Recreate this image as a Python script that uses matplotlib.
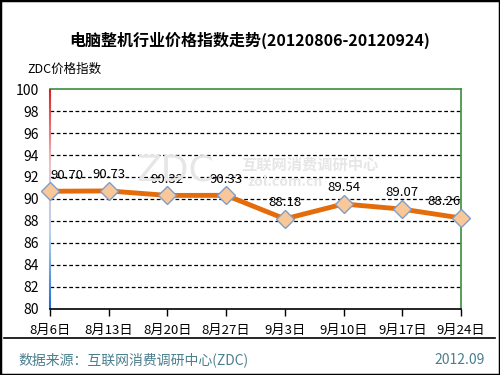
import numpy as np
import matplotlib.pyplot as plt
from matplotlib.collections import LineCollection
from matplotlib.colors import LinearSegmentedColormap
from matplotlib.patches import Rectangle

plt.rcParams['font.family'] = ['Noto Sans CJK SC', 'DejaVu Sans']

# data
dates = ['8月6日', '8月13日', '8月20日', '8月27日', '9月3日', '9月10日', '9月17日', '9月24日']
index = [90.70, 90.73, 90.32, 90.33, 88.18, 89.54, 89.07, 88.26]
yticks = [80, 82, 84, 86, 88, 90, 92, 94, 96, 98, 100]

fig = plt.figure(figsize=(5, 3.75), dpi=100)
ax = fig.add_axes([0.1, 0.177, 0.822, 0.585])

x = np.arange(len(dates))
ax.plot(x, index, color='#E46C0A', lw=3.5, zorder=3, clip_on=False)
ax.plot(x, index, ls='none', marker='D', ms=9, mfc='#FAC898', mec='#7F9DC6',
        mew=1, zorder=4, clip_on=False)

# value labels
for i, v in enumerate(index):
    ha = 'center'
    if i == 0:
        ha = 'left'
    elif i == len(index) - 1:
        ha = 'right'
    ax.annotate('%.2f' % v, (i, v), xytext=(0, 7), textcoords='offset points',
                ha=ha, va='bottom', fontsize=9.5, color='black', zorder=5)

ax.set_xlim(0, len(dates) - 1)
ax.set_ylim(80, 100)
ax.set_yticks(yticks)
ax.set_xticks(x)
ax.set_xticklabels(dates, fontsize=9.5)
ax.tick_params(axis='y', length=0, pad=8, labelsize=10)
ax.tick_params(axis='x', length=5, direction='out', pad=6, width=1)

# dashed grid
for yv in yticks[1:-1]:
    ax.axhline(yv, color='black', lw=0.9, ls=(0, (3, 2)), zorder=1)

for s in ['top', 'right', 'left']:
    ax.spines[s].set_visible(False)
ax.spines['bottom'].set_linewidth(1.2)

ax.axhline(100, color='#3C8C3C', lw=1.2, zorder=2, clip_on=False)
ax.axvline(len(dates) - 1, color='#3C8C3C', lw=1.2, zorder=2, clip_on=False)

# gradient left axis
ys = np.linspace(80, 100, 60)
pts = np.array([[0, y] for y in ys]).reshape(-1, 1, 2)
segs = np.concatenate([pts[:-1], pts[1:]], axis=1)
cmap = LinearSegmentedColormap.from_list('lax', ['#1F6FD0', '#B8D0EE', '#F0C0C8', '#E02020'])
lc = LineCollection(segs, colors=cmap(np.linspace(0, 1, len(segs))), lw=1.5,
                    zorder=2, clip_on=False)
ax.add_collection(lc)

# watermark
fig.text(0.35, 0.545, 'ZDC', fontsize=26, color='#E6E6E6', ha='center', va='center',
         zorder=0, family='DejaVu Sans')
fig.text(0.62, 0.56, '互联网消费调研中心', fontsize=11, color='#E6E6E6', ha='center',
         va='center', zorder=0, weight='bold')
fig.text(0.57, 0.515, 'zol.com.cn', fontsize=10, color='#E6E6E6', ha='center',
         va='center', zorder=0, weight='bold')
ax.set_facecolor('none')

fig.text(0.5, 0.893, '电脑整机行业价格指数走势(20120806-20120924)', ha='center',
         va='center', fontsize=11.5, weight='bold')
fig.text(0.054, 0.816, 'ZDC价格指数', ha='left', va='center', fontsize=9)

# footer
fig.add_artist(plt.Line2D([0.008, 0.99], [1 - 338 / 375, 1 - 338 / 375],
                          color='black', lw=1.2))
fig.text(0.036, 0.04, '数据来源：互联网消费调研中心(ZDC)', ha='left', va='center',
         fontsize=10, color='#4A7F8E')
fig.text(0.97, 0.04, '2012.09', ha='right', va='center', fontsize=10, color='#4A7F8E')

fig.add_artist(Rectangle((0, 0), 1, 1, transform=fig.transFigure, fill=False,
                         edgecolor='black', lw=2.5))

fig.savefig('out.png', dpi=100)
